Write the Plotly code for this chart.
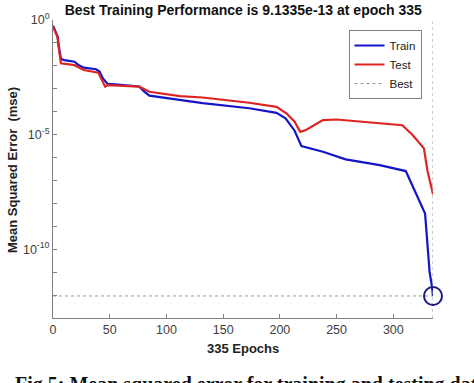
import numpy as np
import plotly.graph_objects as go

# ---- data ----
train_epochs = [0, 2, 4, 5, 7, 10, 19, 22, 27, 38, 41, 44, 48, 52, 76, 80, 85, 132, 173,
                197, 205, 213, 219, 238, 258, 288, 311, 328, 330, 332, 334, 335]
train_log = [-0.25, -0.45, -0.7, -1.1, -1.70, -1.75, -1.82, -1.95, -2.08, -2.15, -2.25, -2.55,
             -2.78, -2.80, -2.90, -3.1, -3.30, -3.63, -3.85, -4.05, -4.29, -4.83, -5.50, -5.75,
             -6.08, -6.33, -6.59, -8.44, -9.75, -10.99, -11.6, -12.0393]
test_epochs = [0, 2, 4, 5, 7, 19, 27, 40, 44, 46, 48, 76, 85, 112, 132, 173, 197, 206, 213,
               218, 223, 238, 250, 308, 317, 327, 330, 335]
test_log = [-0.3, -0.5, -0.75, -1.2, -1.89, -1.97, -2.18, -2.30, -2.70, -2.91, -2.84, -2.91,
            -3.13, -3.32, -3.38, -3.61, -3.79, -4.08, -4.44, -4.88, -4.80, -4.37, -4.34, -4.59,
            -5.02, -5.60, -6.55, -7.6]
best_perf = 9.1335e-13
best_epoch = 335
y_decades = list(range(0, -14, -1))
x_ticks = [0, 50, 100, 150, 200, 250, 300]

train_mse = [10 ** v for v in train_log]
test_mse = [10 ** v for v in test_log]

W, H = 474, 383
ML, MR, MT, MB = 53, 40.5, 20, 65

fig = go.Figure()
fig.add_trace(go.Scatter(x=train_epochs, y=train_mse, mode="lines", name="Train",
                         line=dict(color="#1414C8", width=2.2), cliponaxis=False))
fig.add_trace(go.Scatter(x=test_epochs, y=test_mse, mode="lines", name="Test",
                         line=dict(color="#DC2424", width=2.2), cliponaxis=False))
fig.add_trace(go.Scatter(x=[0, best_epoch, None, best_epoch, best_epoch],
                         y=[best_perf, best_perf, None, 10 ** y_decades[-1], 10 ** y_decades[0]],
                         mode="lines", name="Best",
                         line=dict(color="#9a9a9a", width=1, dash="dot")))
fig.add_trace(go.Scatter(x=[best_epoch], y=[best_perf], mode="markers", showlegend=False,
                         cliponaxis=False,
                         marker=dict(symbol="circle-open", size=18, color="#1a1a80",
                                     line=dict(width=2, color="#1a1a80"))))

tickvals = [10 ** d for d in y_decades]
ticktext = [f"10<sup>{d}</sup>" if d in (0, -5, -10) else "" for d in y_decades]

axis_font = dict(family="Liberation Sans, Arial", size=12.5, color="#404040")
fig.update_xaxes(range=[0, best_epoch], tickvals=x_ticks, ticks="inside", ticklen=4,
                 tickcolor="#808080", showline=True, linecolor="#808080", linewidth=1,
                 showgrid=False, zeroline=False, tickfont=axis_font, automargin=False)
fig.update_yaxes(type="log", range=[y_decades[-1], y_decades[0]], tickvals=tickvals,
                 ticktext=ticktext, ticks="inside", ticklen=4, tickcolor="#808080",
                 showline=True, linecolor="#808080", linewidth=1, showgrid=False,
                 zeroline=False, tickfont=axis_font, automargin=False)

pw = W - ML - MR
ph = H - MT - MB

def px_x(p):
    return (p - ML) / pw

def px_y(p):
    return 1 - (p - MT) / ph

fig.update_layout(
    width=W, height=H,
    margin=dict(l=ML, r=MR, t=MT, b=MB, autoexpand=False),
    plot_bgcolor="white", paper_bgcolor="white",
    title=dict(text="<b>Best Training Performance is 9.1335e-13 at epoch 335</b>",
               x=(ML + pw / 2) / W, xanchor="center", y=1 - 10 / H, yanchor="middle",
               font=dict(family="Liberation Sans, Arial", size=14, color="#111111")),
    legend=dict(x=px_x(422), xanchor="right", y=px_y(30), yanchor="top",
                bgcolor="white", bordercolor="#808080", borderwidth=1,
                font=dict(family="Liberation Sans, Arial", size=11.5, color="#222222"),
                tracegroupgap=0, itemwidth=30),
    showlegend=True,
    annotations=[
        dict(text="<b>Mean Squared Error  (mse)</b>", xref="paper", yref="paper",
             x=px_x(12), y=px_y(170), textangle=-90, showarrow=False,
             xanchor="center", yanchor="middle",
             font=dict(family="Liberation Sans, Arial", size=13, color="#222222")),
        dict(text="<b>335 Epochs</b>", xref="paper", yref="paper",
             x=px_x(243), y=px_y(348), showarrow=False, xanchor="center", yanchor="middle",
             font=dict(family="Liberation Sans, Arial", size=13, color="#222222")),
        dict(text="<b>Fig.5: Mean squared error for training and testing data</b>",
             xref="paper", yref="paper", x=px_x(13), y=px_y(371), showarrow=False,
             xanchor="left", yanchor="top",
             font=dict(family="Liberation Serif, Times New Roman", size=20, color="#111111")),
    ],
)

fig.write_html("out.html", config={"displayModeBar": False},
               post_script="document.body.style.margin='0';")
